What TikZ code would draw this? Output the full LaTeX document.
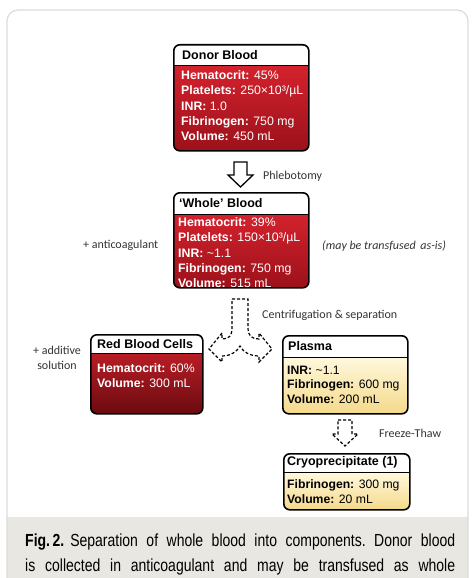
\documentclass[tikz,border=0pt]{standalone}
\usepackage{fontspec}
\setmainfont{Liberation Sans}
\newfontfamily\annfont{Carlito}
\newfontfamily\capfont[FakeStretch=0.8]{Liberation Sans}
\usetikzlibrary{calc}
\definecolor{redtop}{HTML}{D3222D}
\definecolor{redbot}{HTML}{9C111A}
\definecolor{rbctop}{HTML}{B81D25}
\definecolor{rbcbot}{HTML}{6A0B10}
\definecolor{yeltop}{HTML}{FFF8DC}
\definecolor{yelbot}{HTML}{F4D98A}
\definecolor{framegray}{HTML}{DCDCDC}
\definecolor{capbg}{HTML}{E9E7E1}
\definecolor{anngray}{HTML}{333333}
\begin{document}
\begin{tikzpicture}[x=1pt,y=-1pt,
  compbox/.style n args={3}{draw=black, line width=1.6pt, rounded corners=6pt,
    anchor=north west, inner sep=0pt,
    path picture={
      \fill[white, sharp corners] (path picture bounding box.north west) rectangle ([yshift=-#1]path picture bounding box.north east);
      \shade[top color=#2, bottom color=#3, sharp corners] ([yshift=-#1]path picture bounding box.north west) rectangle (path picture bounding box.south east);
      \draw[black, line width=1.1pt, sharp corners] ([yshift=-#1]path picture bounding box.north west) -- ([yshift=-#1]path picture bounding box.north east);
    }},
  hdr/.style={anchor=west, inner sep=0pt, font=\bfseries\fontsize{12.5}{15}\selectfont, text=black},
  bodytxt/.style={anchor=north west, inner sep=0pt, align=left, font=\fontsize{12.3}{15.2}\selectfont},
  ann/.style={inner sep=0pt, font=\annfont\fontsize{12}{14.5}\selectfont, text=anngray},
  blockarrow/.style={draw=black, line width=1.3pt, fill=white, line join=miter},
  dasharrow/.style={draw=black, line width=1.2pt, fill=white, dash pattern=on 3pt off 2pt, line join=miter},
  capline/.style={anchor=base west, inner sep=0pt, font=\capfont\frenchspacing\fontsize{17.5}{20}\selectfont, text=black}
]
\useasboundingbox (0,0) rectangle (474,578);
\fill[white] (0,0) rectangle (474,578);
% caption background and frame
\fill[capbg] (7,517) rectangle (468,578);
\draw[framegray, line width=1.2pt, rounded corners=11pt] (7,578) |- (468,10) -- (468,578);

% Donor blood
\node[compbox={21pt}{redtop}{redbot}, minimum width=135pt, minimum height=106pt] (donor) at (173,44) {};
\node[hdr] (donorH) at (182,55) {Donor Blood};
\node[bodytxt, text=white] (donorT) at (181,70.5) {\textbf{Hematocrit:} 45\%\\\textbf{Platelets:} 250×10³/µL\\\textbf{INR:} 1.0\\\textbf{Fibrinogen:} 750 mg\\\textbf{Volume:} 450 mL};

% Phlebotomy arrow
\draw[blockarrow] (234,162) -- (247,162) -- (247,175) -- (253,175) -- (240.5,187) -- (228,175) -- (234,175) -- cycle;
\node[ann, anchor=west] (phleb) at (263,176) {Phlebotomy};

% Whole blood
\node[compbox={22pt}{redtop}{redbot}, minimum width=135pt, minimum height=95pt] (whole) at (173,192) {};
\node[hdr] (wholeH) at (179,203.5) {‘Whole’ Blood};
\node[bodytxt, text=white] (wholeT) at (178,217.5) {\textbf{Hematocrit:} 39\%\\\textbf{Platelets:} 150×10³/µL\\\textbf{INR:} \textasciitilde1.1\\\textbf{Fibrinogen:} 750 mg\\\textbf{Volume:} 515 mL};
\node[ann, anchor=west] (anticoag) at (83,245) {+ anticoagulant};
\node[ann, anchor=west, font=\annfont\itshape\fontsize{12}{14.5}\selectfont] (asis) at (322,246) {(may be transfused\, as-is)};

% fork arrow
\draw[dasharrow] (232,299) -- (248,299) -- (248,328)
  .. controls (248,336) and (252,339) .. (259,339) -- (259,333) -- (272,349) -- (259,362) -- (259,356)
  .. controls (250,356) and (243,352) .. (240,346)
  .. controls (237,352) and (230,356) .. (222,356) -- (222,362) -- (209,349) -- (222,333) -- (222,339)
  .. controls (229,339) and (232,336) .. (232,328) -- cycle;
\node[ann, anchor=west] (centri) at (262,315) {Centrifugation \& separation};

% Red blood cells
\node[compbox={19pt}{rbctop}{rbcbot}, minimum width=112pt, minimum height=79pt] (rbc) at (90,334) {};
\node[hdr] (rbcH) at (97,344) {Red Blood Cells};
\node[bodytxt, text=white] (rbcT) at (97,363.5) {\textbf{Hematocrit:} 60\%\\\textbf{Volume:} 300 mL};
\node[ann, align=center] (additive) at (57,358) {+ additive\\solution};

% Plasma
\node[compbox={22pt}{yeltop}{yelbot}, minimum width=125pt, minimum height=78pt] (plasma) at (282,335) {};
\node[hdr] (plasmaH) at (288,346.5) {Plasma};
\node[bodytxt, text=black, font=\fontsize{12.2}{14.7}\selectfont] (plasmaT) at (287,365.5) {\textbf{INR:} \textasciitilde1.1\\\textbf{Fibrinogen:} 600 mg\\\textbf{Volume:} 200 mL};

% Freeze-thaw arrow
\draw[dasharrow] (338,420) -- (352,420) -- (352,434) -- (358,434) -- (345,446) -- (332,434) -- (338,434) -- cycle;
\node[ann, anchor=west] (freeze) at (379,433) {Freeze-Thaw};

% Cryoprecipitate
\node[compbox={19pt}{yeltop}{yelbot}, minimum width=126pt, minimum height=56pt] (cryo) at (283,453) {};
\node[hdr] (cryoH) at (287,462.5) {Cryoprecipitate (1)};
\node[bodytxt, text=black, font=\fontsize{12.2}{14.7}\selectfont] (cryoT) at (287,479.5) {\textbf{Fibrinogen:} 300 mg\\\textbf{Volume:} 20 mL};

% caption
\node[capline] (cap1) at (25,546) {\makebox[430pt][s]{\mbox{\textbf{Fig.\kern2.5pt2.}}\hspace{6pt}Separation of whole blood into components. Donor blood}};
\node[capline] (cap2) at (25,571) {\makebox[430pt][s]{is collected in anticoagulant and may be transfused as whole}};
\end{tikzpicture}
\end{document}
